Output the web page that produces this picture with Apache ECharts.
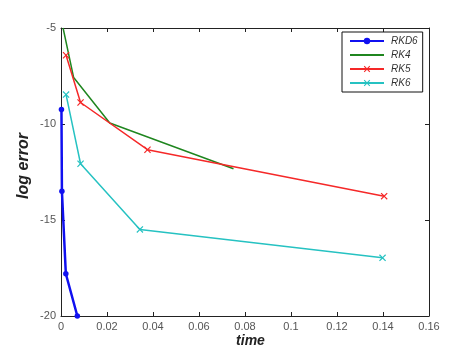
<!DOCTYPE html>
<html>
<head>
<meta charset="utf-8">
<script src="https://cdn.jsdelivr.net/npm/echarts@6/dist/echarts.min.js"></script>
<style>html,body{margin:0;padding:0;background:#fff;}#c{width:474px;height:355px;}</style>
</head>
<body>
<div id="c"></div>
<script>
var seriesNames = ["RKD6", "RK4", "RK5", "RK6"];
var rkd6 = [[0.0002, -9.25], [0.0004, -13.5], [0.0021, -17.8], [0.0071, -20.0]];
var rk4 = [[0.0009, -5.0], [0.0055, -7.58], [0.0212, -9.95], [0.075, -12.33]];
var rk5 = [[0.0022, -6.42], [0.0085, -8.88], [0.0376, -11.34], [0.1405, -13.76]];
var rk6 = [[0.0022, -8.47], [0.0085, -12.07], [0.0343, -15.49], [0.1398, -16.97]];
var xTicks = [0, 0.02, 0.04, 0.06, 0.08, 0.1, 0.12, 0.14, 0.16];
var yTicks = [-20, -15, -10, -5];

var xMark = 'path://M0,1.2L1.2,0L5,3.8L8.8,0L10,1.2L6.2,5L10,8.8L8.8,10L5,6.2L1.2,10L0,8.8L3.8,5Z';
var chart = echarts.init(document.getElementById('c'), null, {renderer: 'canvas'});
var tickLbl = {color: '#555', fontFamily: 'Liberation Sans, Arial', fontSize: 11};
var axisLineStyle = {color: '#222', width: 1};
function xa(primary) {
  return {
    type: 'value', min: xTicks[0], max: xTicks[xTicks.length - 1], interval: 0.02,
    position: primary ? 'bottom' : 'top',
    axisLine: {show: true, onZero: false, lineStyle: axisLineStyle},
    axisTick: {show: true, inside: true, length: 4, lineStyle: {color: '#222'}},
    axisLabel: primary ? Object.assign({margin: 5}, tickLbl) : {show: false},
    splitLine: {show: false},
    name: primary ? 'time' : '',
    nameLocation: 'middle', nameGap: 18, nameMoveOverlap: false,
    nameTextStyle: {fontFamily: 'Liberation Sans, Arial', fontSize: 14, fontWeight: 'bold', fontStyle: 'italic', color: '#222', padding: [0, 0, 0, 11]}
  };
}
function ya(primary) {
  return {
    type: 'value', min: yTicks[0], max: yTicks[yTicks.length - 1], interval: 5,
    position: primary ? 'left' : 'right',
    axisLine: {show: true, onZero: false, lineStyle: axisLineStyle},
    axisTick: {show: true, inside: true, length: 4, lineStyle: {color: '#222'}},
    axisLabel: primary ? Object.assign({margin: 5}, tickLbl) : {show: false},
    splitLine: {show: false},
    name: primary ? 'log error' : '',
    nameLocation: 'middle', nameGap: 29, nameMoveOverlap: false,
    nameTextStyle: {fontFamily: 'Liberation Sans, Arial', fontSize: 16, fontWeight: 'bold', fontStyle: 'italic', color: '#222', padding: [0, 0, 0, 12]}
  };
}
var option = {
  backgroundColor: '#fff',
  animation: false,
  grid: {left: 61, right: 45, top: 28, bottom: 39, containLabel: false},
  xAxis: [xa(true), xa(false)],
  yAxis: [ya(true), ya(false)],
  legend: {
    orient: 'vertical', left: 342, top: 32,
    data: [
      {name: seriesNames[0], itemStyle: {opacity: 1}},
      {name: seriesNames[1], itemStyle: {opacity: 0}},
      {name: seriesNames[2]},
      {name: seriesNames[3]}
    ],
    backgroundColor: '#fff',
    borderColor: '#111', borderWidth: 1,
    padding: [4, 5, 4, 7],
    itemWidth: 34, itemHeight: 8, itemGap: 4,
    textStyle: {fontFamily: 'Liberation Sans, Arial', fontSize: 10, fontStyle: 'italic', color: '#333', padding: [0, 0, 0, 2]}
  },
  series: [
    {name: seriesNames[0], type: 'line', data: rkd6, xAxisIndex: 0, yAxisIndex: 0,
     color: '#1010f0', lineStyle: {width: 2.5, color: '#1010f0'},
     symbol: 'circle', symbolSize: 5.5, itemStyle: {color: '#1010f0'}, clip: true},
    {name: seriesNames[1], type: 'line', data: rk4, xAxisIndex: 0, yAxisIndex: 0,
     color: '#1f861f', lineStyle: {width: 1.5, color: '#1f861f'},
     symbol: 'none', clip: true},
    {name: seriesNames[2], type: 'line', data: rk5, xAxisIndex: 0, yAxisIndex: 0,
     color: '#f52828', lineStyle: {width: 1.5, color: '#f52828'},
     symbol: xMark, symbolSize: 7, itemStyle: {color: '#f52828'}, clip: true},
    {name: seriesNames[3], type: 'line', data: rk6, xAxisIndex: 0, yAxisIndex: 0,
     color: '#26c2c2', lineStyle: {width: 1.5, color: '#26c2c2'},
     symbol: xMark, symbolSize: 7, itemStyle: {color: '#26c2c2'}, clip: true}
  ]
};
chart.setOption(option);
</script>
</body>
</html>
